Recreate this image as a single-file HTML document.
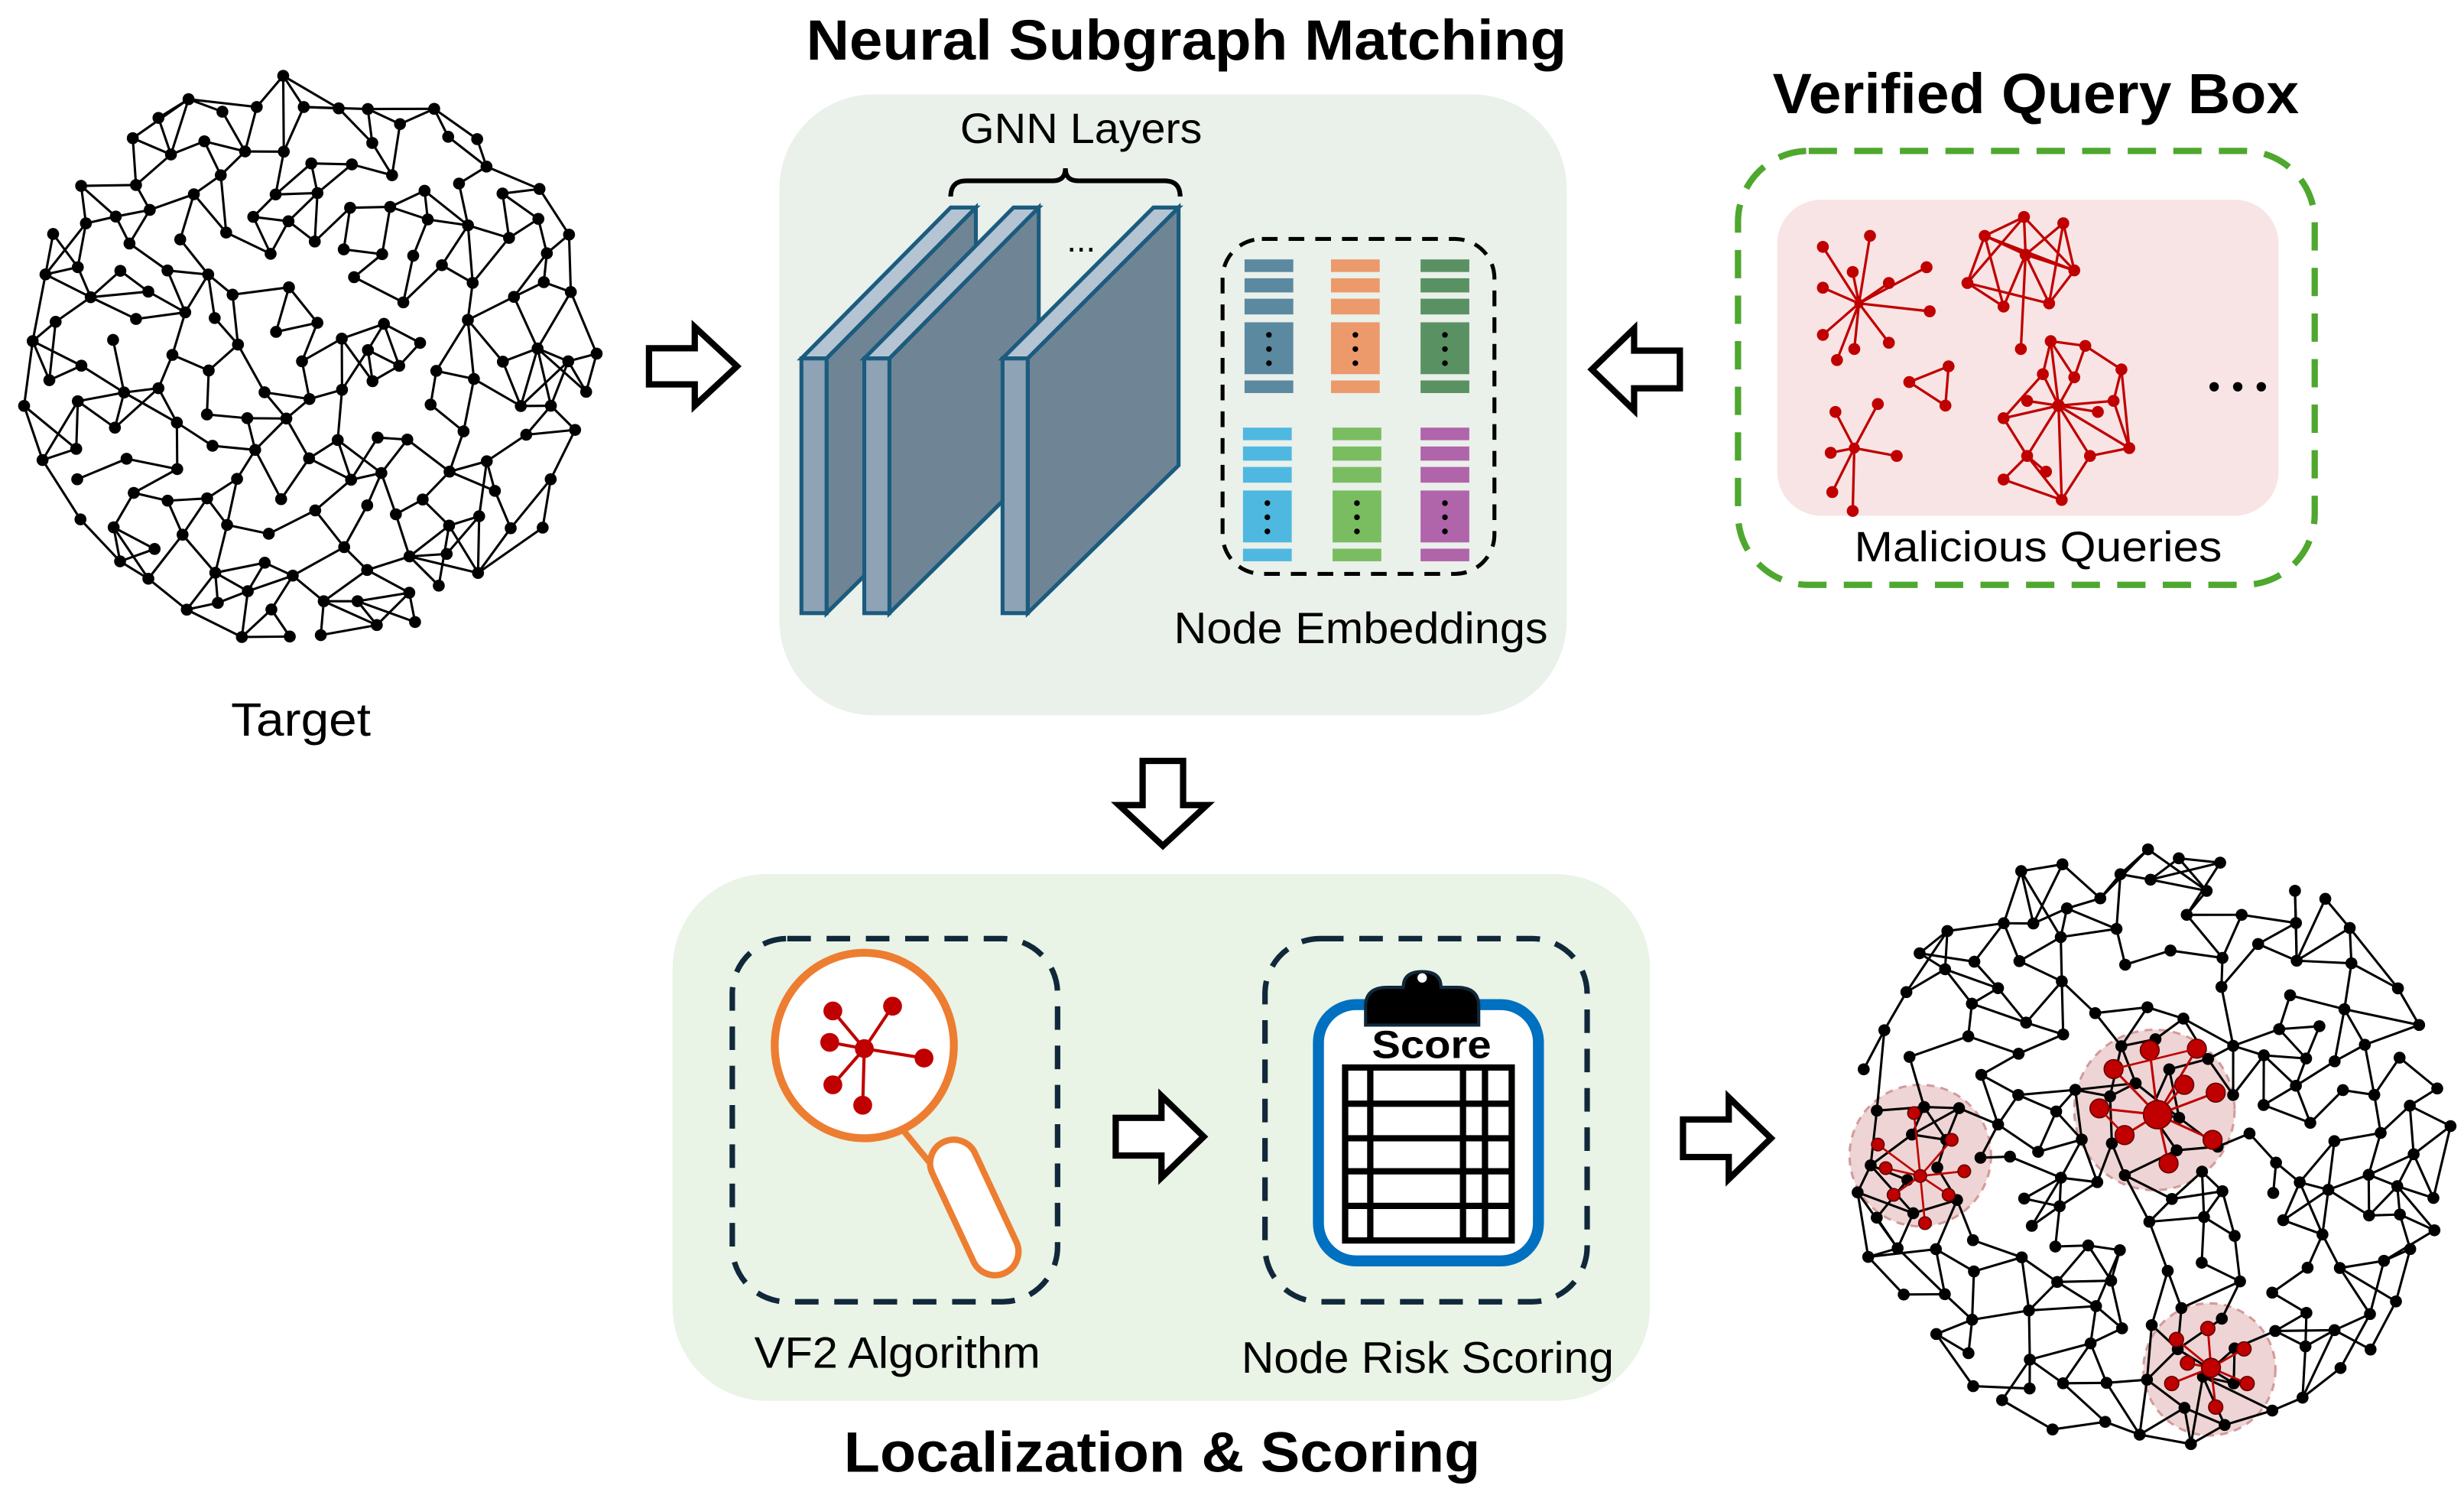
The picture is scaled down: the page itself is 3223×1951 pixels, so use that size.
<!DOCTYPE html>
<html><head><meta charset="utf-8"><style>
html,body{margin:0;padding:0;background:#fff;}
svg{display:block;}
text{font-family:"Liberation Sans","DejaVu Sans",sans-serif;}
</style></head><body>
<svg id="s" width="3223" height="1951" viewBox="0 0 1568 949" preserveAspectRatio="none" xmlns="http://www.w3.org/2000/svg">
<rect width="1568" height="949" fill="#fff"/>
<!-- top box -->
<rect x="496" y="60" width="501" height="395" rx="60" fill="#eaf0ea"/>
<text x="513" y="38" font-size="36" font-weight="bold" textLength="484" lengthAdjust="spacingAndGlyphs">Neural Subgraph Matching</text>
<text x="611" y="91" font-size="27" textLength="154" lengthAdjust="spacingAndGlyphs">GNN Layers</text>
<path d="M605,125 q0,-10 10,-10 h55 q8,0 8,-8 q0,8 8,8 h55 q10,0 10,10" fill="none" stroke="#000" stroke-width="3"/>
<!-- layers -->
<g stroke="#1b5b7e" stroke-width="2.5" stroke-linejoin="miter">
 <polygon points="526,228 621,132 621,296 526,390" fill="#6f8595"/>
 <polygon points="510,228 605,132 621,132 526,228" fill="#b4c4d2"/>
 <rect x="510" y="228" width="16" height="162" fill="#8ea3b6"/>
 <polygon points="566,228 661,132 661,296 566,390" fill="#6f8595"/>
 <polygon points="550,228 645,132 661,132 566,228" fill="#b4c4d2"/>
 <rect x="550" y="228" width="16" height="162" fill="#8ea3b6"/>
 <polygon points="654,228 750,132 750,296 654,390" fill="#6f8595"/>
 <polygon points="638,228 734,132 750,132 654,228" fill="#b4c4d2"/>
 <rect x="638" y="228" width="16" height="162" fill="#8ea3b6"/>
</g>
<text x="688" y="160" font-size="22" text-anchor="middle">...</text>
<rect x="778" y="152" width="173" height="213" rx="25" fill="none" stroke="#000" stroke-width="2.5" stroke-dasharray="10,7"/>
<g id="emb"></g>
<text x="747" y="409" font-size="28" textLength="238" lengthAdjust="spacingAndGlyphs">Node Embeddings</text>
<text x="147" y="468" font-size="30" textLength="89" lengthAdjust="spacingAndGlyphs">Target</text>
<!-- query box -->
<text x="1128" y="72" font-size="36" font-weight="bold" textLength="335" lengthAdjust="spacingAndGlyphs">Verified Query Box</text>
<rect x="1106" y="96" width="367" height="276" rx="45" fill="none" stroke="#4ea72e" stroke-width="4" stroke-dasharray="18,11"/>
<rect x="1131" y="127" width="319" height="201" rx="28" fill="#f8e4e4"/>
<text x="1180" y="357" font-size="27" textLength="234" lengthAdjust="spacingAndGlyphs">Malicious Queries</text>
<g fill="#000"><circle cx="1409" cy="246" r="3"/><circle cx="1424" cy="246" r="3"/><circle cx="1439" cy="246" r="3"/></g>
<g id="q"></g>
<!-- bottom box -->
<rect x="428" y="556" width="622" height="335" rx="60" fill="#e9f3e6"/>
<rect x="466" y="597" width="207" height="231" rx="35" fill="none" stroke="#10283a" stroke-width="3.5" stroke-dasharray="15,10"/>
<rect x="805" y="597" width="205" height="231" rx="35" fill="none" stroke="#10283a" stroke-width="3.5" stroke-dasharray="15,10"/>
<!-- magnifier -->
<g transform="rotate(-25 620 768)"><rect x="605" y="722" width="30" height="92" rx="15" fill="#fff" stroke="#ed7d31" stroke-width="4"/></g>
<line x1="574" y1="718" x2="592" y2="740" stroke="#ed7d31" stroke-width="4"/>
<ellipse cx="550" cy="665" rx="57" ry="59" fill="#fff" stroke="#ed7d31" stroke-width="5"/>
<g stroke="#c00000" stroke-width="2" fill="#c00000">
<line x1="550" y1="667" x2="530" y2="643"/><line x1="550" y1="667" x2="568" y2="640"/><line x1="550" y1="667" x2="528" y2="663"/><line x1="550" y1="667" x2="588" y2="673"/><line x1="550" y1="667" x2="530" y2="690"/><line x1="550" y1="667" x2="549" y2="703"/>
<circle cx="550" cy="667" r="5"/><circle cx="530" cy="643" r="5"/><circle cx="568" cy="640" r="5"/><circle cx="528" cy="663" r="5"/><circle cx="588" cy="673" r="5"/><circle cx="530" cy="690" r="5"/><circle cx="549" cy="703" r="5"/>
</g>
<!-- clipboard -->
<rect x="839" y="639" width="140" height="163" rx="24" fill="#fff" stroke="#0070c0" stroke-width="7"/>
<path d="M869,652 v-12 q0,-12 14,-12 h10 q0,-10 12,-10 q12,0 12,10 h10 q14,0 14,12 v12 z" fill="#000" stroke="#10283a" stroke-width="2"/>
<circle cx="905" cy="622" r="3" fill="#fff"/>
<text x="873" y="673" font-size="25" font-weight="bold" textLength="76" lengthAdjust="spacingAndGlyphs">Score</text>
<g stroke="#000" stroke-width="4" fill="none">
<rect x="856" y="679" width="106" height="110"/>
<line x1="856" y1="702" x2="962" y2="702"/><line x1="856" y1="724" x2="962" y2="724"/><line x1="856" y1="745" x2="962" y2="745"/><line x1="856" y1="767" x2="962" y2="767"/>
<line x1="872" y1="679" x2="872" y2="789"/><line x1="931" y1="679" x2="931" y2="789"/><line x1="945" y1="679" x2="945" y2="789"/>
</g>
<text x="480" y="870" font-size="28" textLength="182" lengthAdjust="spacingAndGlyphs">VF2 Algorithm</text>
<text x="790" y="873" font-size="28" textLength="237" lengthAdjust="spacingAndGlyphs">Node Risk Scoring</text>
<text x="537" y="936" font-size="36" font-weight="bold" textLength="405" lengthAdjust="spacingAndGlyphs">Localization &amp; Scoring</text>
<!-- output highlights -->
<g fill="#e8c6c6" fill-opacity="0.75" stroke="#d49a9a" stroke-dasharray="5,4" stroke-width="1.5">
<circle cx="1222" cy="735" r="45"/><circle cx="1371" cy="706" r="51"/><circle cx="1406" cy="871" r="42"/>
</g>
<g id="tg"></g><g id="og"></g><g id="arr"></g>
</svg>
<script>
var NS="http://www.w3.org/2000/svg";
function el(p,n,a){var e=document.createElementNS(NS,n);for(var k in a)e.setAttribute(k,a[k]);p.appendChild(e);return e;}
var A=document.getElementById('arr');
function arrow(x,y,w,h,dir){
 var pts=[[0,0.27],[0.52,0.27],[0.52,0],[1,0.5],[0.52,1],[0.52,0.73],[0,0.73]];
 var s=pts.map(function(p){var u=p[0],v=p[1];
  if(dir=='L')u=1-u;
  if(dir=='D'){return (x+v*w)+','+(y+u*h);}
  return (x+u*w)+','+(y+v*h);}).join(' ');
 el(A,'polygon',{points:s,fill:'#fff',stroke:'#000','stroke-width':4,'stroke-linejoin':'miter'});
}
arrow(413,208,56,50,'R');arrow(1013,209,56,52,'L');arrow(712,484,56,54,'D');arrow(710,697,56,52,'R');arrow(1071,698,56,52,'R');
var E=document.getElementById('emb');
var cols=[[792,165,'#5a89a0'],[847,165,'#ec9a6b'],[904,165,'#5a9163'],[791,272,'#4fb8e0'],[848,272,'#79bd60'],[904,272,'#b064aa']];
cols.forEach(function(c){var x=c[0],y=c[1],col=c[2],w=31;
 [[0,8],[12,9],[25,10],[40,33],[77,8]].forEach(function(b){el(E,'rect',{x:x,y:y+b[0],width:w,height:b[1],fill:col});});
 for(var i=0;i<3;i++)el(E,'circle',{cx:x+w/2,cy:y+48+i*9,r:1.8,fill:'#000'});
});
var seed=11;function r(){seed=(seed*16807)%2147483647;return (seed-1)/2147483646;}
function graph(g,cx,cy,R,N){
 var P=[];var tries=0;
 while(P.length<N&&tries<40000){tries++;var a=r()*6.2832,d=Math.sqrt(r())*R;var x=cx+Math.cos(a)*d,y=cy+Math.sin(a)*d;
  var ok=true;for(var i=0;i<P.length;i++){var dx=P[i][0]-x,dy=P[i][1]-y;if(dx*dx+dy*dy<18*18){ok=false;break;}}
  if(ok)P.push([x,y]);}
 var Ed={};
 P.forEach(function(p,i){var ds=P.map(function(q,j){return [(q[0]-p[0])*(q[0]-p[0])+(q[1]-p[1])*(q[1]-p[1]),j];}).sort(function(a,b){return a[0]-b[0];});
  var m=2+Math.floor(r()*2);for(var t=1;t<=m;t++){var j=ds[Math.min(ds.length-1,t+Math.floor(r()*4))][1];var key=Math.min(i,j)+'_'+Math.max(i,j);
   if(!Ed[key]){Ed[key]=1;el(g,'line',{x1:p[0],y1:p[1],x2:P[j][0],y2:P[j][1],stroke:'#000','stroke-width':1.5});}}});
 P.forEach(function(p){el(g,'circle',{cx:p[0],cy:p[1],r:3.8,fill:'#000'});});
}
graph(document.getElementById('tg'),197,230,184,175);
graph(document.getElementById('og'),1367,728,193,185);
var O=document.getElementById('og');
function star(g,cx,cy,pts,rc,rn,sw){pts.forEach(function(p){el(g,'line',{x1:cx,y1:cy,x2:p[0],y2:p[1],stroke:'#c00000','stroke-width':sw});});
 pts.forEach(function(p){el(g,'circle',{cx:p[0],cy:p[1],r:rn,fill:'#c00000',stroke:'#600','stroke-width':0.8});});
 el(g,'circle',{cx:cx,cy:cy,r:rc,fill:'#c00000',stroke:'#600','stroke-width':0.8});}
star(O,1222,748,[[1195,728],[1218,708],[1242,725],[1250,745],[1205,760],[1225,778],[1200,743],[1240,760]],4,4,1.3);
star(O,1373,709,[[1345,680],[1368,668],[1398,667],[1410,695],[1408,725],[1380,740],[1352,722],[1336,705],[1390,690]],9,6,1.5);
el(O,'line',{x1:1345,y1:680,x2:1398,y2:667,stroke:'#c00000','stroke-width':1.3});
el(O,'line',{x1:1336,y1:705,x2:1352,y2:722,stroke:'#c00000','stroke-width':1.3});
star(O,1407,870,[[1385,852],[1405,845],[1428,858],[1430,880],[1410,895],[1382,880],[1392,867]],6,4.5,1.4);
var Q=document.getElementById('q');
function qg(nodes,edges,rn){edges.forEach(function(e){el(Q,'line',{x1:nodes[e[0]][0],y1:nodes[e[0]][1],x2:nodes[e[1]][0],y2:nodes[e[1]][1],stroke:'#c00000','stroke-width':1.6});});
 nodes.forEach(function(n){el(Q,'circle',{cx:n[0],cy:n[1],r:n[2]||rn,fill:'#c00000'});});}
var s1=[[1183,193,3],[1160,157],[1190,150],[1179,173],[1202,180],[1226,170],[1160,183],[1160,213],[1228,198],[1169,229],[1180,222],[1202,218]];
qg(s1,s1.slice(1).map(function(_,i){return [0,i+1];}),3.8);
var c2=[[1263,150],[1288,138],[1313,142],[1320,172],[1289,162],[1252,180],[1304,193],[1275,195],[1286,222]];
qg(c2,[[0,1],[0,3],[0,4],[0,5],[0,7],[1,4],[1,3],[2,3],[2,4],[2,6],[3,4],[3,6],[4,6],[4,8],[5,6],[5,7],[5,1],[4,7]],3.8);
qg([[1215,243],[1240,233],[1238,258]],[[0,1],[1,2],[2,0]],3.8);
var s3=[[1180,285,3.5],[1168,262],[1195,257],[1165,288],[1207,290],[1166,313],[1179,325]];
qg(s3,s3.slice(1).map(function(_,i){return [0,i+1];}),3.8);
var c4=[[1310,258,4],[1305,217],[1327,220],[1350,235],[1300,238],[1320,240],[1345,255],[1275,266],[1290,255],[1335,262],[1355,285],[1290,290],[1330,290],[1275,305],[1312,318],[1302,300]];
qg(c4,[[0,1],[0,4],[0,5],[0,6],[0,7],[0,8],[0,9],[0,10],[0,11],[0,12],[0,14],[1,2],[1,4],[1,5],[2,3],[2,5],[3,6],[3,10],[6,10],[10,12],[7,4],[7,11],[11,13],[13,14],[14,11],[14,12],[11,15]],3.8);
</script>
</body></html>
